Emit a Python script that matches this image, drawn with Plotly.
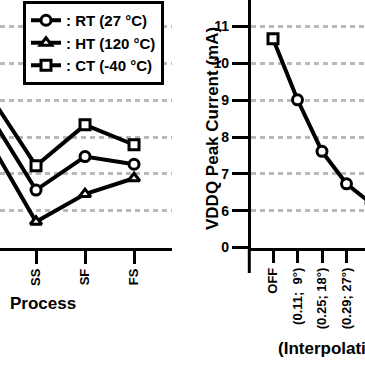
import plotly.graph_objects as go

# ---- data ----
process = ["FF", "SS", "SF", "FS"]
rt_vals = [8.72, 6.56, 7.47, 7.26]
ht_vals = [8.00, 5.70, 6.45, 6.88]
ct_vals = [9.25, 7.22, 8.33, 7.79]

interp = ["OFF", "(0.11;  9°)", "(0.25; 18°)", "(0.29; 27°)", "(0.33; 36°)"]
vddq_vals = [10.67, 9.01, 7.61, 6.73, 6.2]
vddq_symbols = ["square", "circle", "circle", "circle", "circle"]

grid_vals = [6, 7, 8, 9, 10, 11]
right_tickvals = [5, 6, 7, 8, 9, 10, 11]
right_ticktext = ["0", "6", "7", "8", "9", "10", "11"]

W = H = 365
FONT = "Liberation Sans, Arial, Helvetica, sans-serif"
bottom_px = 247.5
ydom = [(H - bottom_px) / H, 1.0]
yrange = [5, 11.72]

fig = go.Figure()

line_style = dict(color="black", width=4)
def mk(sym):
    return dict(symbol=sym, size=10, color="white", line=dict(color="black", width=3))

fig.add_trace(go.Scatter(x=process, y=rt_vals, mode="lines+markers", name=": RT (27 °C)",
                         line=line_style, marker=mk("circle"), xaxis="x", yaxis="y"))
fig.add_trace(go.Scatter(x=process, y=ht_vals, mode="lines+markers", name=": HT (120 °C)",
                         line=line_style, marker=mk("triangle-up"), xaxis="x", yaxis="y"))
fig.add_trace(go.Scatter(x=process, y=ct_vals, mode="lines+markers", name=": CT (-40 °C)",
                         line=line_style, marker=mk("square"), xaxis="x", yaxis="y"))

fig.add_trace(go.Scatter(x=interp, y=vddq_vals, mode="lines+markers", showlegend=False,
                         line=line_style,
                         marker=dict(symbol=vddq_symbols, size=10, color="white",
                                     line=dict(color="black", width=3)),
                         xaxis="x2", yaxis="y2"))

tickfont = dict(family=FONT, size=13, color="black", weight="bold")
grid = dict(showgrid=True, gridcolor="#b8b8b8", gridwidth=3, griddash="5px,4px")

right_x0 = 250.8 / W

fig.update_layout(
    template="none",
    width=W, height=H,
    margin=dict(l=0, r=0, t=0, b=0, pad=0, autoexpand=False),
    paper_bgcolor="white", plot_bgcolor="white",
    font=dict(family=FONT, color="black", weight="bold"),
    xaxis=dict(domain=[0, 172 / W], type="category", categoryorder="array",
               categoryarray=process, range=[0.265, 3.775], automargin=False,
               showline=True, linewidth=3, linecolor="black",
               ticks="outside", ticklen=13, tickwidth=3, tickcolor="black",
               tickangle=-90, tickfont=tickfont, showgrid=False, zeroline=False),
    yaxis=dict(domain=ydom, range=yrange, tickvals=grid_vals, showticklabels=False,
               automargin=False,
               ticks="", showline=False, zeroline=False, **grid),
    xaxis2=dict(domain=[right_x0, 1], type="category", categoryorder="array",
                categoryarray=interp, range=[-0.906, 3.755], anchor="y2",
                automargin=False,
                showline=True, linewidth=3, linecolor="black",
                ticks="outside", ticklen=12, tickwidth=3, tickcolor="black",
                tickangle=-90, tickfont=tickfont, showgrid=False, zeroline=False),
    yaxis2=dict(domain=ydom, range=yrange, anchor="x2", automargin=False,
                tickvals=right_tickvals, ticktext=right_ticktext,
                showline=True, linewidth=3, linecolor="black",
                ticks="outside", ticklen=16, tickwidth=3, tickcolor="black",
                tickfont=dict(family=FONT, size=14, color="black", weight="bold"),
                showgrid=False, zeroline=False),
    yaxis3=dict(domain=ydom, range=yrange, overlaying="y2", anchor="x2",
                automargin=False,
                tickvals=grid_vals, showticklabels=False, ticks="",
                showline=False, zeroline=False, **grid),
    legend=dict(x=23 / W, y=1 - 1 / H, xanchor="left", yanchor="top",
                bgcolor="white", bordercolor="black", borderwidth=3,
                font=dict(family=FONT, size=15, color="black", weight="bold"),
                tracegroupgap=3, itemwidth=30),
    showlegend=True,
)

# empty trace to attach yaxis3 so its gridlines render
fig.add_trace(go.Scatter(x=[], y=[], xaxis="x2", yaxis="y3", showlegend=False))

fig.add_shape(type="line", xref="paper", yref="paper",
              x0=249.3 / W, x1=249.3 / W, y0=(H - bottom_px) / H, y1=(H - 273) / H,
              line=dict(color="black", width=3))

fig.add_annotation(text="Process", xref="paper", yref="paper",
                   x=42.5 / W, y=(H - 303) / H, xanchor="center", yanchor="middle",
                   showarrow=False,
                   font=dict(family=FONT, size=17, color="black", weight="bold"))
fig.add_annotation(text="VDDQ Peak Current (mA)", xref="paper", yref="paper",
                   x=212 / W, y=(H - 128) / H, xanchor="center", yanchor="middle",
                   textangle=-90, showarrow=False,
                   font=dict(family=FONT, size=17, color="black", weight="bold"))
fig.add_annotation(text="(Interpolation Factor; Phase)", xref="paper", yref="paper",
                   x=276 / W, y=(H - 348) / H, xanchor="left", yanchor="middle",
                   showarrow=False,
                   font=dict(family=FONT, size=17, color="black", weight="bold"))

fig.write_html("out.html", config={"displayModeBar": False},
               post_script="document.body.style.margin='0px';document.body.style.overflow='hidden';")
